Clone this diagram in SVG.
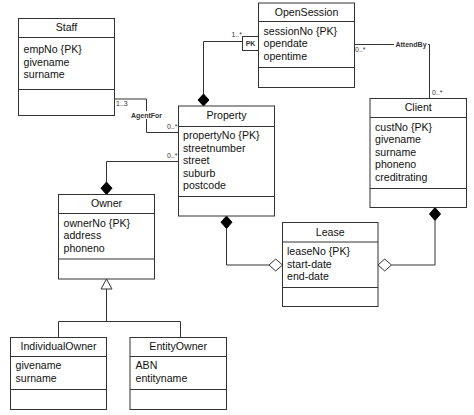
<svg xmlns="http://www.w3.org/2000/svg" width="474" height="415" viewBox="0 0 474 415">
<style>
.box{fill:#fff;stroke:#333;stroke-width:1}
.sep{stroke:#333;stroke-width:1}
.t{font-family:"Liberation Sans",Arial,sans-serif;font-size:10.6px;fill:#111}
.c{text-anchor:middle}
.lbl{font-family:"Liberation Sans",Arial,sans-serif;font-size:7px;fill:#333}
.b{font-weight:bold}
.ln{fill:none;stroke:#333;stroke-width:1}
.fd{fill:#000;stroke:#000;stroke-width:1}
.hd{fill:#fff;stroke:#333;stroke-width:1}
</style>
<rect width="474" height="415" fill="#fff"/>
<g id="connectors">
  <polyline class="ln" points="114.5,99 146.5,99 146.5,132.5 178.5,132.5"/>
  <polyline class="ln" points="178.5,161.5 106.5,161.5 106.5,182"/>
  <polygon class="fd" points="106.5,182 112,188.2 106.5,194.5 101,188.2"/>
  <polyline class="ln" points="203.5,94 203.5,41.5 242.5,41.5"/>
  <polygon class="fd" points="203.5,94 209,100 203.5,106 198,100"/>
  <polyline class="ln" points="354.5,44.5 429.5,44.5 429.5,98.5"/>
  <polyline class="ln" points="226.5,228.5 226.5,265 269,265"/>
  <polygon class="fd" points="226.5,216 232,222.2 226.5,228.5 221,222.2"/>
  <polygon class="hd" points="269,265 275.7,259 282.5,265 275.7,271"/>
  <polyline class="ln" points="435,220.5 435,265 391.5,265"/>
  <polygon class="fd" points="435,207.5 440.5,214 435,220.5 429.5,214"/>
  <polygon class="hd" points="378,265 384.7,259 391.5,265 384.7,271"/>
  <polygon class="hd" points="106.5,279 112,289 101,289"/>
  <polyline class="ln" points="106.5,289 106.5,321.5"/>
  <polyline class="ln" points="58.5,337.5 58.5,321.5 180.5,321.5 180.5,337.5"/>
  <rect x="242.5" y="36.5" width="16" height="14" class="box"/>
  <text class="lbl b c" x="250.5" y="46">PK</text>
  <text class="lbl" x="231.5" y="37">1..*</text>
  <text class="lbl" x="116" y="106">1..3</text>
  <rect x="130" y="111" width="33" height="8" fill="#fff"/>
  <text class="lbl b c" x="146.5" y="117.5">AgentFor</text>
  <text class="lbl" x="167" y="128.5">0..*</text>
  <text class="lbl" x="167" y="157.5">0..*</text>
  <rect x="394" y="40" width="34" height="8" fill="#fff"/>
  <text class="lbl b c" x="411" y="47">AttendBy</text>
  <text class="lbl" x="355" y="52">0..*</text>
  <text class="lbl" x="432" y="94.5">0..*</text>
</g>
<g id="Staff">
  <rect class="box" x="18.5" y="18.5" width="96" height="97"/>
  <line class="sep" x1="18.5" y1="37.5" x2="114.5" y2="37.5"/>
  <line class="sep" x1="18.5" y1="89.5" x2="114.5" y2="89.5"/>
  <text class="t c" x="66.5" y="31">Staff</text>
  <text class="t" x="23.5" y="53">empNo {PK}</text>
  <text class="t" x="23.5" y="65.5">givename</text>
  <text class="t" x="23.5" y="78">surname</text>
</g>
<g id="OpenSession">
  <rect class="box" x="258.5" y="3" width="96" height="84.5"/>
  <line class="sep" x1="258.5" y1="21.5" x2="354.5" y2="21.5"/>
  <line class="sep" x1="258.5" y1="67.5" x2="354.5" y2="67.5"/>
  <text class="t c" x="306.5" y="15.5">OpenSession</text>
  <text class="t" x="263.5" y="34.5">sessionNo {PK}</text>
  <text class="t" x="263.5" y="47">opendate</text>
  <text class="t" x="263.5" y="59.5">opentime</text>
</g>
<g id="Property">
  <rect class="box" x="178.5" y="106" width="96" height="110"/>
  <line class="sep" x1="178.5" y1="126.5" x2="274.5" y2="126.5"/>
  <line class="sep" x1="178.5" y1="196.5" x2="274.5" y2="196.5"/>
  <text class="t c" x="226.5" y="118.5">Property</text>
  <text class="t" x="183" y="139">propertyNo {PK}</text>
  <text class="t" x="183" y="151.5">streetnumber</text>
  <text class="t" x="183" y="164">street</text>
  <text class="t" x="183" y="176.5">suburb</text>
  <text class="t" x="183" y="189">postcode</text>
</g>
<g id="Client">
  <rect class="box" x="370" y="98.5" width="96.5" height="109"/>
  <line class="sep" x1="370" y1="117.5" x2="466.5" y2="117.5"/>
  <line class="sep" x1="370" y1="188.5" x2="466.5" y2="188.5"/>
  <text class="t c" x="418.2" y="111">Client</text>
  <text class="t" x="375" y="130.5">custNo {PK}</text>
  <text class="t" x="375" y="143">givename</text>
  <text class="t" x="375" y="155.5">surname</text>
  <text class="t" x="375" y="168">phoneno</text>
  <text class="t" x="375" y="180.5">creditrating</text>
</g>
<g id="Lease">
  <rect class="box" x="282.5" y="222.5" width="95.5" height="84"/>
  <line class="sep" x1="282.5" y1="242" x2="378" y2="242"/>
  <line class="sep" x1="282.5" y1="287.5" x2="378" y2="287.5"/>
  <text class="t c" x="330.2" y="235.5">Lease</text>
  <text class="t" x="287" y="255">leaseNo {PK}</text>
  <text class="t" x="287" y="267.5">start-date</text>
  <text class="t" x="287" y="280">end-date</text>
</g>
<g id="Owner">
  <rect class="box" x="58.5" y="194.5" width="96" height="84.5"/>
  <line class="sep" x1="58.5" y1="213.5" x2="154.5" y2="213.5"/>
  <line class="sep" x1="58.5" y1="259" x2="154.5" y2="259"/>
  <text class="t c" x="106.5" y="207">Owner</text>
  <text class="t" x="63.5" y="226.5">ownerNo {PK}</text>
  <text class="t" x="63.5" y="239">address</text>
  <text class="t" x="63.5" y="251.5">phoneno</text>
</g>
<g id="IndividualOwner">
  <rect class="box" x="10.5" y="337.5" width="96" height="72"/>
  <line class="sep" x1="10.5" y1="356.5" x2="106.5" y2="356.5"/>
  <line class="sep" x1="10.5" y1="389.5" x2="106.5" y2="389.5"/>
  <text class="t c" x="58.5" y="350">IndividualOwner</text>
  <text class="t" x="15.5" y="369">givename</text>
  <text class="t" x="15.5" y="381.5">surname</text>
</g>
<g id="EntityOwner">
  <rect class="box" x="130" y="337.5" width="96.5" height="72"/>
  <line class="sep" x1="130" y1="356.5" x2="226.5" y2="356.5"/>
  <line class="sep" x1="130" y1="389.5" x2="226.5" y2="389.5"/>
  <text class="t c" x="178.2" y="350">EntityOwner</text>
  <text class="t" x="135.5" y="369">ABN</text>
  <text class="t" x="135.5" y="381.5">entityname</text>
</g>
</svg>
